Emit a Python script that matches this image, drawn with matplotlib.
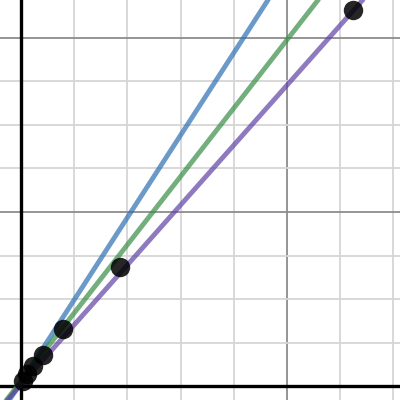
import numpy as np
import matplotlib
matplotlib.use("Agg")
import matplotlib.pyplot as plt

# data (x minor = 1, y minor = 0.5)
pts_x = [6.24, 1.86, 0.79, 0.41, 0.22, 0.11, 0.03]
pts_y = [4.32, 1.37, 0.66, 0.36, 0.23, 0.14, 0.06]

line_names = ["blue", "green", "purple"]
line_slopes = [0.944, 0.783, 0.687]
line_intercepts = [0.05, 0.06, 0.02]
line_colors = ["#2d70b3", "#388c46", "#6042a6"]

xlim = (-0.395, 7.124)
ylim = (-0.155, 4.432)

fig = plt.figure(figsize=(4, 4), dpi=100, facecolor="white")
ax = fig.add_axes([0, 0, 1, 1])
ax.set_xlim(*xlim)
ax.set_ylim(*ylim)

# grid: minor and major lines, desmos style
for gx in np.arange(-1, 8, 1.0):
    major = (gx % 5 == 0)
    if gx == 0:
        continue
    ax.axvline(gx, color="#8c8c8c" if major else "#d6d6d6", lw=1.3, zorder=0)
for gy in np.arange(-0.5, 5, 0.5):
    major = (gy % 2 == 0)
    if gy == 0:
        continue
    ax.axhline(gy, color="#8c8c8c" if major else "#d6d6d6", lw=1.3, zorder=0)
ax.axvline(0, color="black", lw=2.4, zorder=1)
ax.axhline(0, color="black", lw=2.4, zorder=1)

xs = np.array(xlim)
for name, m, b, c in zip(line_names, line_slopes, line_intercepts, line_colors):
    ax.plot(xs, m * xs + b, color=c, alpha=0.7, lw=3.5, zorder=2,
            solid_capstyle="butt")

ax.plot(pts_x, pts_y, "o", color="black", alpha=0.85, ms=14, mew=0, zorder=3)

ax.set_xticks([])
ax.set_yticks([])
for s in ax.spines.values():
    s.set_visible(False)

fig.savefig("out.png", dpi=100, facecolor="white")
